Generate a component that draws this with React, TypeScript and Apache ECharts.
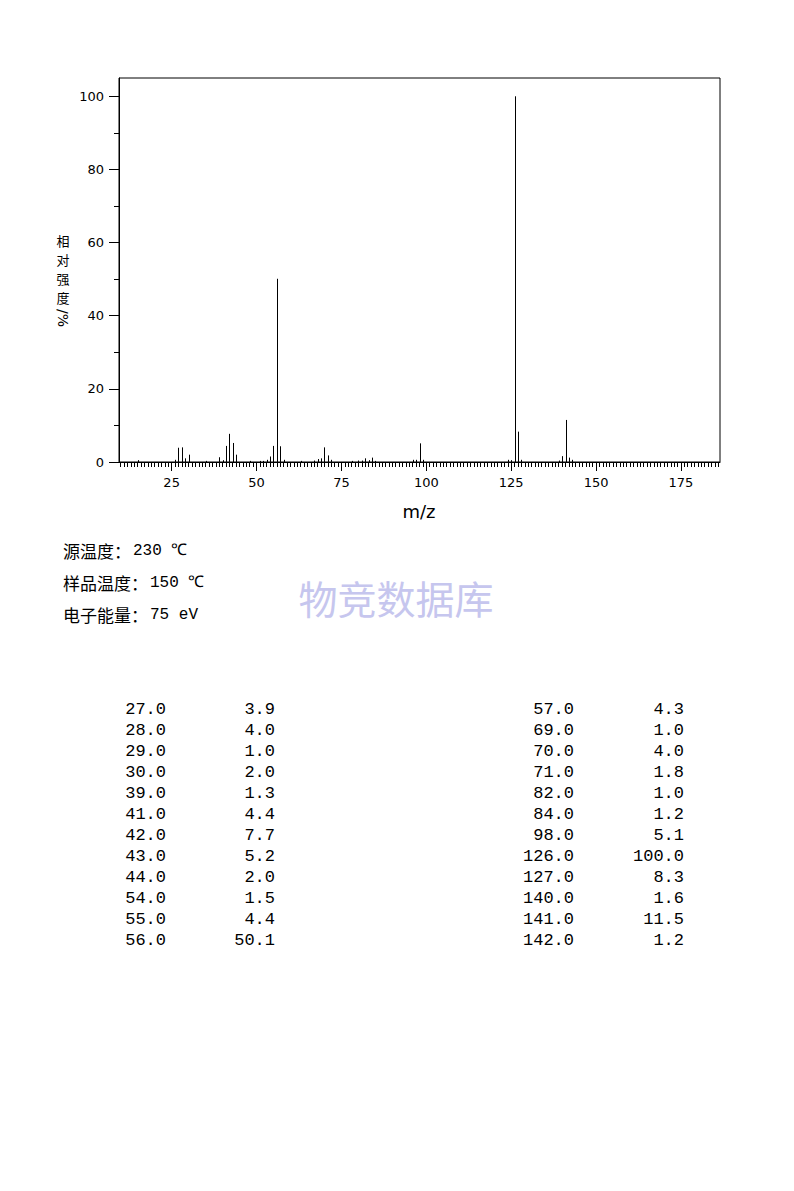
import React, { useEffect, useRef } from "react";
import * as echarts from "echarts";

// Spectrum peaks (m/z, relative intensity %)
const mzValues = [15, 26, 27, 28, 29, 30, 35, 39, 40, 41, 42, 43, 44, 48, 51, 52, 53, 54, 55, 56, 57, 58, 63, 67, 68, 69, 70, 71, 72, 78, 80, 81, 82, 83, 84, 85, 96, 97, 98, 99, 124, 125, 126, 127, 128, 139, 140, 141, 142, 143];
const intensities = [0.5, 0.6, 3.9, 4.0, 1.0, 2.0, 0.3, 1.3, 0.5, 4.4, 7.7, 5.2, 2.0, 0.3, 0.3, 0.3, 0.6, 1.5, 4.4, 50.1, 4.3, 0.6, 0.3, 0.4, 0.8, 1.0, 4.0, 1.8, 0.6, 0.3, 0.4, 0.4, 1.0, 0.5, 1.2, 0.3, 0.6, 0.6, 5.1, 0.6, 0.6, 0.5, 100.0, 8.3, 0.6, 0.4, 1.6, 11.5, 1.2, 0.6];

// Axis tick labels
const xLabels = [25, 50, 75, 100, 125, 150, 175];
const yLabels = [0, 20, 40, 60, 80, 100];
const yMinor = [10, 30, 50, 70, 90];
const X_MIN = 9.5;
const X_MAX = 186.5;
const Y_MAX = 105;

// Axis names
const yNameChars = ["相", "对", "强", "度"];
const yNameTail = "/%";
const xName = "m/z";

// Info lines
const infoLabels = ["源温度：", "样品温度：", "电子能量："];
const infoValues = ["230 ℃", "150 ℃", "75 eV"];
const watermark = "物竞数据库";

// Table (listed peaks)
const tableLeftMz = ["27.0", "28.0", "29.0", "30.0", "39.0", "41.0", "42.0", "43.0", "44.0", "54.0", "55.0", "56.0"];
const tableLeftInt = ["3.9", "4.0", "1.0", "2.0", "1.3", "4.4", "7.7", "5.2", "2.0", "1.5", "4.4", "50.1"];
const tableRightMz = ["57.0", "69.0", "70.0", "71.0", "82.0", "84.0", "98.0", "126.0", "127.0", "140.0", "141.0", "142.0"];
const tableRightInt = ["4.3", "1.0", "4.0", "1.8", "1.0", "1.2", "5.1", "100.0", "8.3", "1.6", "11.5", "1.2"];

const minorX: number[] = [];
for (let v = 10; v <= 186; v++) minorX.push(v);

export default function App() {
  const ref = useRef<HTMLDivElement>(null);
  useEffect(() => {
    if (!ref.current) return;
    const chart = echarts.init(ref.current, null, { renderer: "svg" });
    const axisFont = { fontFamily: "DejaVu Sans", fontSize: 13, color: "#000" };
    const mono = "Liberation Mono";
    const cjk = "Noto Sans CJK SC";

    const graphics: any[] = [];
    // y axis name (vertical, one char per element)
    yNameChars.forEach((ch, i) => {
      graphics.push({
        type: "text",
        x: 63,
        y: 240 + i * 19,
        style: {
          text: ch,
          fontFamily: cjk,
          fontSize: 13,
          lineHeight: 13,
          fill: "#000",
          align: "center",
          verticalAlign: "middle",
        } as any,
      });
    });
    graphics.push({
      type: "text",
      x: 63,
      y: 318,
      rotation: -Math.PI / 2,
      style: {
        text: yNameTail,
        fontFamily: "DejaVu Sans",
        fontSize: 14,
        lineHeight: 14,
        fill: "#000",
        align: "center",
        verticalAlign: "middle",
      } as any,
    });
    // x axis name
    graphics.push({
      type: "text",
      x: 419,
      y: 511,
      style: { text: xName, fontFamily: "DejaVu Sans", fontSize: 18, fill: "#000", align: "center", verticalAlign: "middle" } as any,
    });
    // info lines: CJK label then value in monospace
    const cjkSize = 17;
    infoLabels.forEach((lab, i) => {
      const y = 550 + i * 32;
      graphics.push({
        type: "text",
        x: 63,
        y,
        style: { text: lab, fontFamily: cjk, fontSize: cjkSize, fill: "#000", verticalAlign: "middle" } as any,
      });
      graphics.push({
        type: "text",
        x: 63 + lab.length * cjkSize + 2,
        y: y + 1,
        style: { text: infoValues[i], fontFamily: mono, fontSize: 16, fill: "#000", verticalAlign: "middle" } as any,
      });
    });
    // watermark
    graphics.push({
      type: "text",
      x: 396,
      y: 597,
      style: { text: watermark, fontFamily: cjk, fontSize: 39, fill: "#c6c6ee", align: "center", verticalAlign: "middle" } as any,
    });
    // table
    const colRight = [166, 275, 574, 684];
    const cols = [tableLeftMz, tableLeftInt, tableRightMz, tableRightInt];
    cols.forEach((col, c) => {
      col.forEach((t, r) => {
        graphics.push({
          type: "text",
          x: colRight[c],
          y: 709 + r * 21,
          style: { text: t, fontFamily: mono, fontSize: 17, fill: "#000", align: "right", verticalAlign: "middle" } as any,
        });
      });
    });

    const data = mzValues.map((m, i) => [m, intensities[i]]);

    chart.setOption({
      animation: false,
      grid: {
        left: 119,
        top: 78,
        width: 601,
        height: 384,
        show: true,
        borderColor: "#000",
        borderWidth: 1,
        backgroundColor: "transparent",
      },
      xAxis: [
        {
          type: "value",
          position: "bottom",
          min: X_MIN,
          max: X_MAX,
          axisLine: { show: true, onZero: false, lineStyle: { color: "#000", width: 1 } },
          axisTick: { show: true, length: 9, customValues: xLabels, lineStyle: { color: "#000" } },
          axisLabel: { show: true, customValues: xLabels, margin: 14, ...axisFont },
          splitLine: { show: false },
        },
        {
          type: "value",
          position: "bottom",
          min: X_MIN,
          max: X_MAX,
          axisLine: { show: false, onZero: false },
          axisTick: { show: true, length: 5, customValues: minorX, lineStyle: { color: "#000" } },
          axisLabel: { show: false },
          splitLine: { show: false },
        },
      ],
      yAxis: [
        {
          type: "value",
          position: "left",
          min: 0,
          max: Y_MAX,
          axisLine: { show: true, onZero: false, lineStyle: { color: "#000", width: 1 } },
          axisTick: { show: true, length: 10, customValues: yLabels, lineStyle: { color: "#000" } },
          axisLabel: { show: true, customValues: yLabels, margin: 15, ...axisFont },
          splitLine: { show: false },
        },
        {
          type: "value",
          position: "left",
          min: 0,
          max: Y_MAX,
          axisLine: { show: false, onZero: false },
          axisTick: { show: true, length: 5, customValues: yMinor, lineStyle: { color: "#000" } },
          axisLabel: { show: false },
          splitLine: { show: false },
        },
      ],
      series: [
        {
          type: "custom",
          xAxisIndex: 0,
          yAxisIndex: 0,
          data,
          renderItem: (params: any, api: any) => {
            const x = api.value(0);
            const y = api.value(1);
            const p0 = api.coord([x, 0]);
            const p1 = api.coord([x, y]);
            const px = Math.round(p0[0]) + 0.5;
            return {
              type: "line",
              shape: { x1: px, y1: p0[1], x2: px, y2: p1[1] },
              style: { stroke: "#000", lineWidth: 1 },
            };
          },
        },
      ],
      graphic: graphics,
    });
    return () => chart.dispose();
  }, []);

  return (
    <div
      ref={ref}
      style={{ position: "absolute", left: 0, top: 0, width: 794, height: 1191, background: "#fff" }}
    />
  );
}
